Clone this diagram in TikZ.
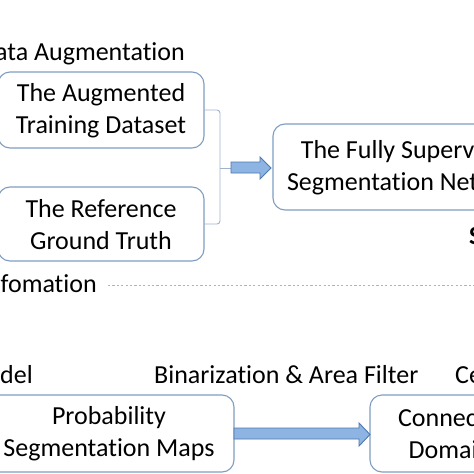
\documentclass[tikz,border=0pt]{standalone}
\usepackage{fontspec}
\setmainfont[Ligatures=NoCommon]{Carlito}
\usetikzlibrary{shapes.arrows}
\definecolor{boxline}{HTML}{7F9DC2}
\definecolor{brline}{HTML}{9FB3CC}
\definecolor{arrfill}{HTML}{8DB4E2}
\definecolor{arrline}{HTML}{4E7AAE}
\definecolor{dotline}{HTML}{A6B6C8}
\tikzset{
  box/.style={draw=boxline, line width=1.1pt, rounded corners=12pt},
  boxtext/.style={align=center, font=\fontsize{26}{31.5}\selectfont, inner sep=0pt},
  lbl/.style={font=\fontsize{26}{31}\selectfont, inner sep=0pt},
  bracket/.style={draw=brline, line width=0.9pt, rounded corners=3pt},
  blockarrow/.style={draw=arrline, fill=arrfill, line width=0.9pt, line join=miter},
}
\begin{document}
\begin{tikzpicture}[x=1pt,y=-1pt]
\useasboundingbox (0,0) rectangle (474,474);
\clip (0,0) rectangle (474,474);
\fill[white] (0,0) rectangle (474,474);
% boxes
\draw[box] (-2,72) rectangle (204,148);
\node[boxtext] (aug) at (101,110.5) {The Augmented\\Training Dataset};
\draw[box] (-2,187) rectangle (204,261);
\node[boxtext] (ref) at (101,224.5) {The Reference\\Ground Truth};
\draw[box] (273,124) rectangle (548,210);
\node[boxtext] (net) at (409,167.5) {The Fully Supervised\\Segmentation Network};
\draw[box] (-16,395) rectangle (234,472);
\node[boxtext] (prob) at (109,433.5) {Probability\\Segmentation Maps};
\draw[box] (370,395) rectangle (545,472);
\node[boxtext] (conn) at (455,433.5) {Connected\\Domains};
% bracket
\coordinate (b1) at (204,110);
\coordinate (b2) at (204,224);
\coordinate (bm) at (231,168);
\draw[bracket] (b1) -- (220,110) -- (220,224) -- (b2);
\draw[bracket] (220,168) -- (bm);
% block arrows
\draw[blockarrow] (231,162) -- (260,162) -- (260,157) -- (271,168) -- (260,179) -- (260,173) -- (231,173) -- cycle;
\draw[blockarrow] (234,428) -- (359,428) -- (359,423) -- (370,434.5) -- (359,446) -- (359,439) -- (234,439) -- cycle;
% labels
\node[lbl, anchor=base east] (lda) at (185,60) {Data Augmentation};
\node[lbl, anchor=base east] (linf) at (97,292) {Infomation};
\coordinate (d1) at (108,285);
\coordinate (d2) at (474,285);
\draw[dotline, line width=0.8pt, dash pattern=on 2.2pt off 2.2pt] (d1) -- (d2);
\node[lbl, anchor=base east] (lmod) at (33,383) {Model};
\node[lbl, anchor=base west] (lbin) at (154,383) {Binarization \& Area Filter};
\node[lbl, anchor=base west] (lce) at (455,383) {Ce};
\node[lbl, anchor=base west, font=\fontsize{26}{31}\selectfont\bfseries] (ls) at (469,244) {S};
\end{tikzpicture}
\end{document}
